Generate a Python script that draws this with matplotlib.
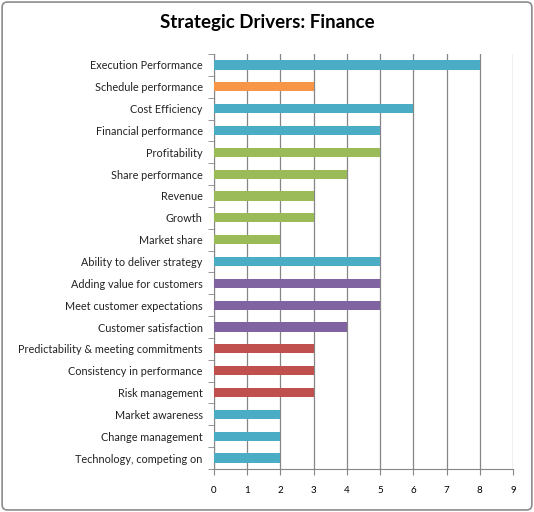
import matplotlib
matplotlib.use('Agg')
from matplotlib import pyplot as plt
from matplotlib.patches import FancyBboxPatch

drivers = ['Execution Performance', 'Schedule performance', 'Cost Efficiency',
           'Financial performance', 'Profitability', 'Share performance',
           'Revenue', 'Growth', 'Market share', 'Ability to deliver strategy',
           'Adding value for customers', 'Meet customer expectations',
           'Customer satisfaction', 'Predictability & meeting commitments',
           'Consistency in performance', 'Risk management', 'Market awareness',
           'Change management', 'Technology, competing on']
scores = [8, 3, 6, 5, 5, 4, 3, 3, 2, 5, 5, 5, 4, 3, 3, 3, 2, 2, 2]
groups = ['blue', 'orange', 'blue', 'blue', 'green', 'green', 'green', 'green',
          'green', 'blue', 'purple', 'purple', 'purple', 'red', 'red', 'red',
          'blue', 'blue', 'blue']

palette = {'blue': '#4BACC6', 'orange': '#F79646', 'green': '#9BBB59',
           'purple': '#8064A2', 'red': '#C0504D'}

plt.rcParams['font.family'] = ['Lato', 'DejaVu Sans']

fig = plt.figure(figsize=(5.34, 5.12), dpi=100)
ax = fig.add_axes([0.4007, 0.084, 0.56, 0.8105])

ypos = list(range(len(drivers)))
ax.barh(ypos, scores, height=0.42, color=[palette[g] for g in groups], zorder=3)

ax.set_ylim(len(drivers) - 0.5, -0.5)
ax.set_xlim(0, 9)
ax.set_xticks(range(10))
ax.xaxis.grid(True, color='#868686', linewidth=0.9, zorder=0)
ax.set_yticks(ypos)
ax.set_yticklabels(drivers, fontsize=7.8, color='#222222')
ax.set_yticks([y + 0.5 for y in range(-1, len(drivers))], minor=True)
ax.tick_params(axis='y', which='major', length=0, pad=8)
ax.tick_params(axis='y', which='minor', length=4, color='#868686')
ax.tick_params(axis='x', length=4, color='#868686', labelsize=7, pad=8)
for s in ['top', 'right']:
    ax.spines[s].set_visible(False)
for s in ['left', 'bottom']:
    ax.spines[s].set_color('#868686')

fig.suptitle('Strategic Drivers: Finance', x=0.5, y=0.972, fontsize=13.5,
             fontweight='bold')

border = FancyBboxPatch((0.004, 0.004), 0.992, 0.992,
                        boxstyle='round,pad=0,rounding_size=0.01',
                        transform=fig.transFigure, fill=False,
                        edgecolor='#8c8c8c', linewidth=1.2)
fig.patches.append(border)

fig.savefig('out.png', dpi=100)
